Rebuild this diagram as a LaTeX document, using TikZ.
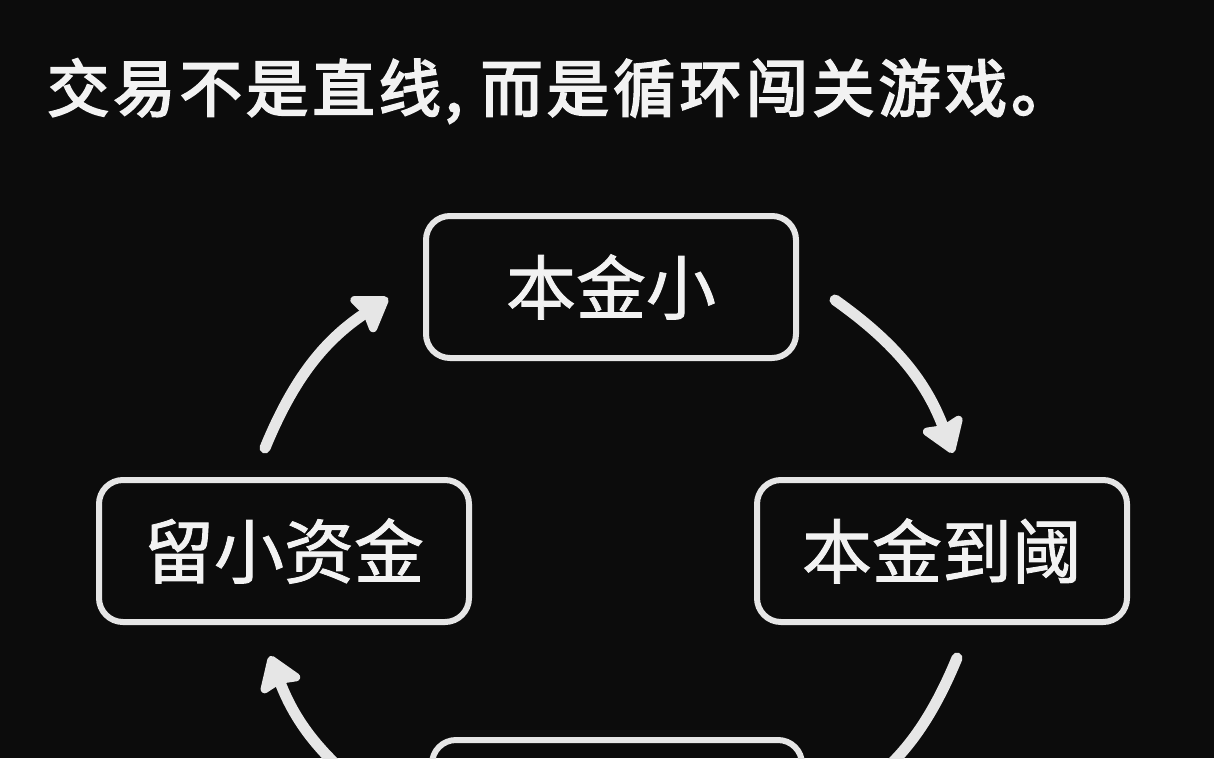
\documentclass[tikz,border=0pt]{standalone}
\usepackage{fontspec}
\newfontfamily\cjk{Noto Sans CJK SC}[FakeBold=1.3]
\newfontfamily\cjkhead{Noto Sans CJK SC}[FakeBold=3.4,LetterSpace=7]
\usetikzlibrary{arrows.meta,positioning}
\definecolor{cy-bg}{HTML}{0C0C0C}
\definecolor{cy-line}{HTML}{E6E6E6}
\definecolor{cy-text}{HTML}{F2F2F2}

\begin{document}
\begin{tikzpicture}[x=1pt, y=1pt,
  stage/.style={draw=cy-line, line width=6pt, rounded corners=24pt,
    minimum width=370pt, minimum height=142pt, text=cy-text,
    font=\cjk\fontsize{70}{82}\selectfont},
  cyc/.style={cy-line, line width=11pt, line cap=round,
    -{Stealth[length=38pt,width=50pt,inset=5pt,round]}}]
\useasboundingbox (0,0) rectangle (1214,-758);
\fill[cy-bg] (0,0) rectangle (1214,-758);
\clip (0,0) rectangle (1214,-758);
\node[anchor=west, inner sep=0pt, text=cy-text,
  font=\cjkhead\fontsize{62}{74}\selectfont] (title) at (47,-91)
  {交易不是直线, 而是循环闯关游戏。};
\node[stage] (small) at (611,-287) {本金小};
\node[stage] (goal) at (942,-551) {本金到阈};
\node[stage] (keep) at (284,-551) {留小资金};
\node[stage] (next) at (617,-811) {};
% ends of the round trip
\coordinate (a1s) at (265,-448);
\coordinate (a1e) at (388,-298);
\coordinate (a2s) at (835,-300);
\coordinate (a2e) at (953,-453);
\coordinate (a3s) at (957,-658);
\coordinate (a3e) at (836,-805);
\coordinate (a4s) at (386,-805);
\coordinate (a4e) at (270,-656);
\draw[cyc] (a1s) to[bend left=17] (a1e);
\draw[cyc] (a2s) to[bend left=17] (a2e);
\draw[cyc] (a3s) to[bend left=17] (a3e);
\draw[cyc] (a4s) to[bend left=17] (a4e);
\end{tikzpicture}
\end{document}
